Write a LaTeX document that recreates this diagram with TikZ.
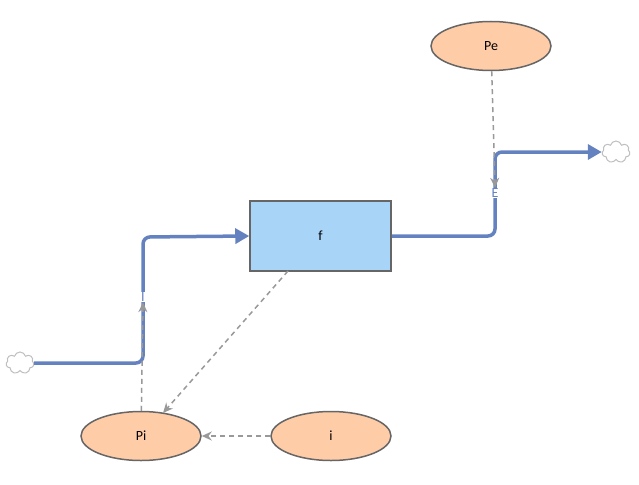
\documentclass[tikz,border=0pt]{standalone}
\usepackage{fontspec}
\setmainfont{Carlito}
\usetikzlibrary{shapes.geometric,shapes.symbols,arrows.meta}
\definecolor{varfill}{HTML}{FFCCA8}
\definecolor{stockfill}{HTML}{A8D4F8}
\definecolor{flowc}{HTML}{6482C0}
\definecolor{edge}{HTML}{666666}
\tikzset{
 var/.style={ellipse,draw=edge,fill=varfill,line width=1.5pt,minimum width=120pt,minimum height=49pt,inner sep=0pt,font=\fontsize{14}{16}\selectfont},
 stock/.style={draw=edge,fill=stockfill,line width=1.5pt,minimum width=141pt,minimum height=70pt,font=\fontsize{14}{16}\selectfont},
 flow/.style={draw=flowc,line width=3.5pt,rounded corners=7pt},
 flowend/.style={flow,-{Triangle[length=14pt,width=15pt]}},
 link/.style={draw=black!40,dashed,line width=1.5pt,dash pattern=on 5pt off 4pt,-{Stealth[length=10pt,width=9pt]}},
 cloudy/.style={cloud,cloud puffs=7,draw=black!25,fill=white,line width=1pt,minimum width=28pt,minimum height=22pt,inner sep=0pt},
 vlab/.style={font=\fontsize{14}{14}\selectfont,text=flowc,fill=white,inner sep=0.5pt}
}
\begin{document}
\begin{tikzpicture}[x=1pt,y=-1pt]
\useasboundingbox (0,0) rectangle (639,484);
\node[stock] (f) at (320.5,236) {f};
\node[var] (Pe) at (491,46) {Pe};
\node[var] (Pi) at (141,436) {Pi};
\node[var] (i) at (331,436) {i};
\node[cloudy] (c1) at (20,363) {};
\node[cloudy] (c2) at (616,152) {};
\coordinate (vi) at (143,297);
\coordinate (ve) at (495,193);
\draw[flowend] (c1.east) -- (143,363) -- (143,237) -- (f.west);
\draw[flowend] (f.east) -- (495,236) -- (495,152) -- (c2.west);
\node[vlab] (I) at (vi) {I};
\node[vlab] (E) at (ve) {E};
\draw[link] (Pe) -- (E.north);
\draw[link] (Pi) -- (I.south);
\draw[link] (288,271) -- (163,413);
\draw[link] (i) -- (Pi);
\end{tikzpicture}
\end{document}
